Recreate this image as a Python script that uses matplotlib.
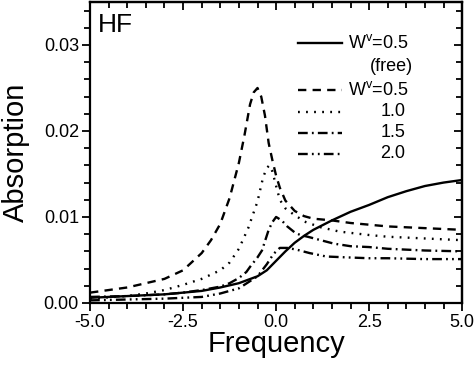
import matplotlib

matplotlib.use("Agg")
import matplotlib.pyplot as plt
from matplotlib.ticker import MultipleLocator, FormatStrFormatter

plt.rcParams["font.family"] = ["Liberation Sans", "DejaVu Sans"]
plt.rcParams["mathtext.fontset"] = "custom"
plt.rcParams["mathtext.rm"] = "Liberation Sans"
plt.rcParams["mathtext.it"] = "Liberation Sans"
plt.rcParams["mathtext.default"] = "regular"
plt.rcParams["axes.unicode_minus"] = False
plt.rcParams["lines.scale_dashes"] = False

# free molecule, W^v = 0.5
free_x = [-5, -4, -3, -2.5, -2, -1.5, -1, -0.5, -0.25, 0, 0.25, 0.5, 0.75,
          1.0, 1.5, 2.0, 2.5, 3.0, 3.5, 4.0, 4.5, 5.0]
free_y = [0.0006, 0.0008, 0.0010, 0.0012, 0.0014, 0.0018, 0.0023, 0.0031,
          0.0038, 0.0049, 0.0060, 0.0070, 0.0078, 0.0085, 0.0096, 0.0106,
          0.0114, 0.0123, 0.0130, 0.0136, 0.0140, 0.0143]

w05_x = [-5, -4.5, -4, -3.5, -3, -2.5, -2.0, -1.75, -1.5, -1.25, -1.0, -0.85,
         -0.7, -0.6, -0.5, -0.4, -0.3, -0.2, -0.1, 0, 0.1, 0.25, 0.5, 0.75,
         1.0, 1.5, 2.0, 3.0, 4.0, 5.0]
w05_y = [0.0012, 0.0015, 0.0018, 0.0023, 0.0028, 0.0038, 0.0058, 0.0073,
         0.0092, 0.0122, 0.0163, 0.0195, 0.0231, 0.0245, 0.0250, 0.0240,
         0.0218, 0.0186, 0.0166, 0.0148, 0.0134, 0.0119, 0.0107, 0.0101,
         0.0098, 0.0096, 0.0093, 0.0089, 0.0087, 0.0085]

w10_x = [-5, -4, -3.5, -3, -2.5, -2, -1.5, -1.25, -1.0, -0.75, -0.5, -0.35,
         -0.25, -0.18, -0.1, 0, 0.1, 0.25, 0.5, 0.8, 1.2, 1.7, 2.5, 3.0, 4.0,
         5.0]
w10_y = [0.0005, 0.0008, 0.0011, 0.0015, 0.0021, 0.0028, 0.0038, 0.0047,
         0.0063, 0.0087, 0.0118, 0.0146, 0.0157, 0.0160, 0.0153, 0.0136,
         0.0120, 0.0110, 0.0102, 0.0094, 0.0088, 0.0083, 0.0079, 0.0077,
         0.0075, 0.0073]

w15_x = [-5, -4, -3, -2.5, -2, -1.5, -1.25, -1.0, -0.8, -0.7, -0.5, -0.38,
         -0.2, -0.1, 0.0, 0.15, 0.3, 0.5, 0.65, 0.85, 1.2, 1.55, 2.0, 2.5,
         3.0, 4.0, 5.0]
w15_y = [0.0007, 0.0008, 0.0010, 0.0012, 0.0015, 0.0019, 0.0023, 0.0029,
         0.0036, 0.0042, 0.0053, 0.0061, 0.0085, 0.0094, 0.0100, 0.0096,
         0.0089, 0.0082, 0.0079, 0.0077, 0.0073, 0.0069, 0.0066, 0.0065,
         0.0063, 0.0061, 0.0060]

w20_x = [-5, -4, -3, -2.5, -2, -1.5, -1.0, -0.75, -0.5, -0.25, -0.07, 0.1,
         0.3, 0.55, 0.9, 1.35, 1.9, 2.5, 3.0, 4.0, 5.0]
w20_y = [0.0003, 0.0004, 0.0005, 0.0006, 0.0007, 0.0011, 0.0017, 0.0024,
         0.0031, 0.0045, 0.0057, 0.0064, 0.0064, 0.0062, 0.0058, 0.0054,
         0.0053, 0.0052, 0.0052, 0.0051, 0.0051]

series = [
    (free_x, free_y, "-", "W$^{v}$=0.5"),
    (w05_x, w05_y, (0, (6, 4.5)), "W$^{v}$=0.5"),
    (w10_x, w10_y, (0, (1.3, 4.5)), "1.0"),
    (w15_x, w15_y, (0, (7, 3, 1.3, 3)), "1.5"),
    (w20_x, w20_y, (0, (7, 3, 1.3, 3, 1.3, 3)), "2.0"),
]

fig = plt.figure(figsize=(4.74, 3.65), dpi=100)
ax = fig.add_axes([0.19, 0.170, 0.785, 0.8245])
lw = 1.7
for xs, ys, ls, _ in series:
    ax.plot(xs, ys, color="black", lw=lw, linestyle=ls)

ax.set_xlim(-5, 5)
ax.set_ylim(0, 0.035)
ax.xaxis.set_major_locator(MultipleLocator(2.5))
ax.xaxis.set_minor_locator(MultipleLocator(0.5))
ax.yaxis.set_major_locator(MultipleLocator(0.01))
ax.yaxis.set_minor_locator(MultipleLocator(0.002))
ax.xaxis.set_major_formatter(FormatStrFormatter("%.1f"))
ax.yaxis.set_major_formatter(FormatStrFormatter("%.2f"))
ax.tick_params(which="major", direction="out", length=6, width=1.3,
               labelsize=13, pad=2)
ax.tick_params(which="minor", direction="out", length=4, width=1.3)
for spine in ax.spines.values():
    spine.set_linewidth(1.6)

top = ax.secondary_xaxis("top")
top.xaxis.set_major_locator(MultipleLocator(2.5))
top.xaxis.set_minor_locator(MultipleLocator(0.5))
top.tick_params(which="both", direction="in", labeltop=False, width=1.3)
top.tick_params(which="major", length=6)
top.tick_params(which="minor", length=4)
top.spines["top"].set_linewidth(1.6)
right = ax.secondary_yaxis("right")
right.yaxis.set_major_locator(MultipleLocator(0.01))
right.yaxis.set_minor_locator(MultipleLocator(0.002))
right.tick_params(which="both", direction="in", labelright=False, width=1.3)
right.tick_params(which="major", length=6)
right.tick_params(which="minor", length=4)
right.spines["right"].set_linewidth(1.6)

ax.set_xlabel("Frequency", fontsize=21, labelpad=-1)
ax.set_ylabel("Absorption", fontsize=21, labelpad=10)
ax.text(0.02, 0.965, "HF", transform=ax.transAxes, fontsize=19,
        ha="left", va="top")

# hand-placed legend
rows = [0.864, 0.708, 0.635, 0.565, 0.495]
for (xs, ys, ls, label), ry in zip(series, rows):
    ax.plot([0.559, 0.677], [ry, ry], transform=ax.transAxes, color="black",
            lw=lw, linestyle=ls)
    if label.startswith("W"):
        ax.text(0.694, ry, label, transform=ax.transAxes, fontsize=13,
                ha="left", va="center")
    else:
        ax.text(0.847, ry, label, transform=ax.transAxes, fontsize=13,
                ha="right", va="center")
ax.text(0.868, 0.786, "(free)", transform=ax.transAxes, fontsize=13,
        ha="right", va="center")

fig.savefig("out.png", dpi=100)
